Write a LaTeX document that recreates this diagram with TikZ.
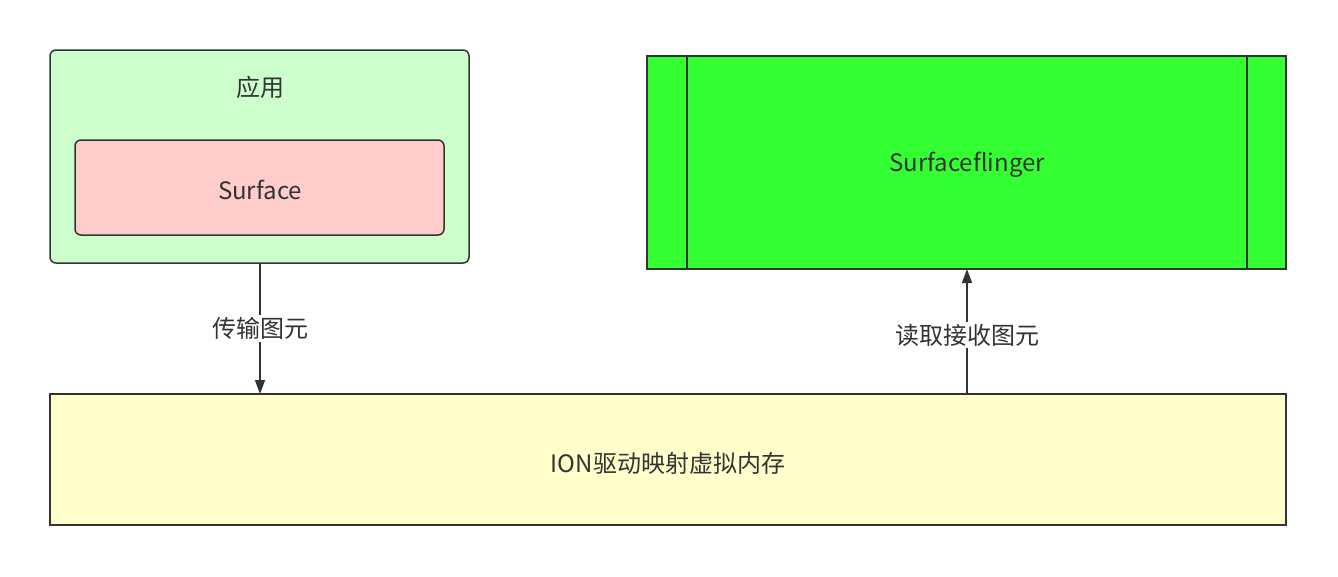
\documentclass[tikz,border=0pt]{standalone}
\usepackage{fontspec}
\setmainfont{Noto Sans CJK SC}
\usetikzlibrary{arrows.meta}
\definecolor{appg}{HTML}{CCFFCC}
\definecolor{surf}{HTML}{FFCCCC}
\definecolor{sfg}{HTML}{33FF33}
\definecolor{ion}{HTML}{FFFFCC}
\definecolor{ln}{HTML}{333333}
\begin{document}
\begin{tikzpicture}[x=1pt,y=-1pt,
  box/.style={draw=ln,line width=1.5pt},
  lbl/.style={font=\fontsize{24}{28}\selectfont,text=ln},
  arr/.style={draw=ln,line width=1.5pt,-{Triangle[length=14pt,width=10pt]}}]
\useasboundingbox (0,0) rectangle (1338,576);
\draw[box,fill=appg,rounded corners=6pt] (50,50) rectangle (469,263);
\node[lbl] (app) at (260,87) {应用};
\draw[box,fill=surf,rounded corners=6pt] (75,140) rectangle (444,235);
\node[lbl] (surface) at (260,190) {Surface};
\draw[box,fill=sfg] (647,56) rectangle (1286,269);
\draw[box] (687,56) -- (687,269) (1247,56) -- (1247,269);
\node[lbl] (sf) at (967,165) {Surfaceflinger};
\draw[box,fill=ion] (50,394) rectangle (1286,525);
\node[lbl] (ionl) at (668,463) {ION驱动映射虚拟内存};
\coordinate (a1) at (260,263); \coordinate (a2) at (260,394);
\coordinate (b1) at (967,394); \coordinate (b2) at (967,269);
\draw[arr] (a1) -- node[lbl,fill=white,inner sep=2pt] (t1) {传输图元} (a2);
\draw[arr] (b1) -- node[lbl,fill=white,inner sep=2pt,pos=0.47] (t2) {读取接收图元} (b2);
\end{tikzpicture}
\end{document}
